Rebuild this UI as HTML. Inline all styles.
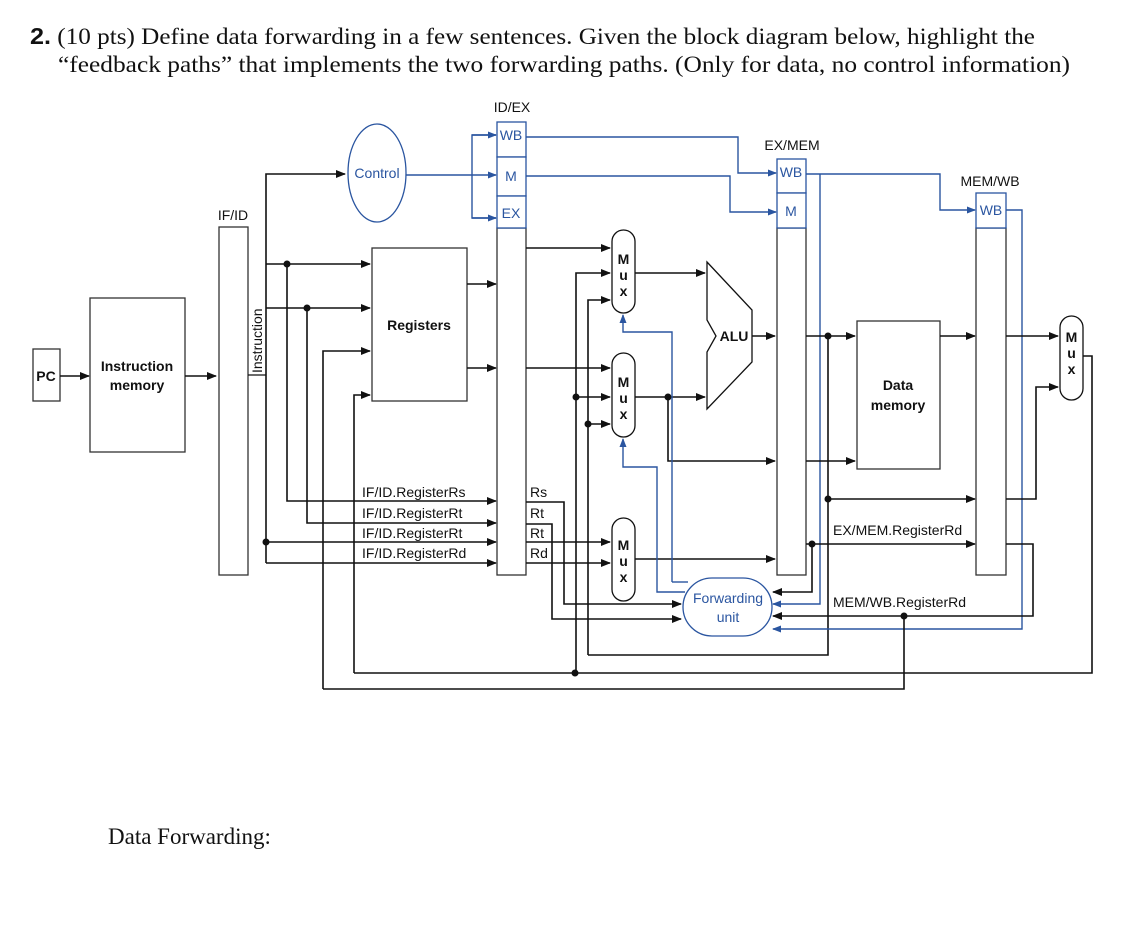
<!DOCTYPE html>
<html><head><meta charset="utf-8"><style>
html,body{margin:0;padding:0;background:#fff;}
svg{display:block;}
.t{font-family:"Liberation Sans",sans-serif;font-size:14px;fill:#111;}
.b{font-weight:bold;}
.bl{fill:#2a55a0;}
.k{stroke:#111;stroke-width:1.6;fill:none;}
.kb{stroke:#2a55a0;stroke-width:1.4;fill:none;}
.box{stroke:#333;stroke-width:1.3;fill:#fff;}
.bbox{stroke:#2a55a0;stroke-width:1.3;fill:#fff;}
</style></head><body>
<svg width="1134" height="938" viewBox="0 0 1134 938" xmlns="http://www.w3.org/2000/svg">
<defs>
<marker id="a" markerWidth="10" markerHeight="8" refX="9" refY="4" orient="auto" markerUnits="userSpaceOnUse"><path d="M0,0 L10,4 L0,8 z" fill="#111"/></marker>
<marker id="ab" markerWidth="9" markerHeight="7" refX="8" refY="3.5" orient="auto" markerUnits="userSpaceOnUse"><path d="M0,0 L9,3.5 L0,7 z" fill="#2a55a0"/></marker>
</defs>

<text x="30" y="44" font-family="Liberation Serif,serif" font-size="23" fill="#111" textLength="1005" lengthAdjust="spacingAndGlyphs"><tspan font-family="Liberation Sans,sans-serif" font-weight="bold">2.</tspan> (10 pts) Define data forwarding in a few sentences. Given the block diagram below, highlight the</text>
<text x="58" y="72" font-family="Liberation Serif,serif" font-size="23" fill="#111" textLength="1012" lengthAdjust="spacingAndGlyphs">“feedback paths” that implements the two forwarding paths. (Only for data, no control information)</text>
<text x="108" y="844" font-family="Liberation Serif,serif" font-size="23" fill="#111">Data Forwarding:</text>

<!-- PC / IM -->
<rect x="33" y="349" width="27" height="52" class="box"/>
<text x="46" y="381" class="t b" text-anchor="middle">PC</text>
<path class="k" d="M60,376 H89" marker-end="url(#a)"/>
<rect x="90" y="298" width="95" height="154" class="box"/>
<text x="137" y="371" class="t b" text-anchor="middle">Instruction</text>
<text x="137" y="390" class="t b" text-anchor="middle">memory</text>
<path class="k" d="M185,376 H216" marker-end="url(#a)"/>

<!-- IF/ID -->
<text x="233" y="220" class="t" text-anchor="middle">IF/ID</text>
<rect x="219" y="227" width="29" height="348" class="box"/>
<path class="k" d="M248,375 H266" style="stroke-width:1.2"/>
<text transform="translate(262,373) rotate(-90)" class="t">Instruction</text>

<path class="k" d="M266,563 V174 H345" marker-end="url(#a)"/>
<path class="k" d="M266,264 H370" marker-end="url(#a)"/>
<path class="k" d="M266,308 H370" marker-end="url(#a)"/>
<path class="k" d="M287,264 V501 H496" marker-end="url(#a)"/>
<path class="k" d="M307,308 V523 H496" marker-end="url(#a)"/>
<path class="k" d="M266,542 H496" marker-end="url(#a)"/>
<path class="k" d="M266,563 H496" marker-end="url(#a)"/>
<circle cx="287" cy="264" r="3.5" fill="#111"/>
<circle cx="307" cy="308" r="3.5" fill="#111"/>
<circle cx="266" cy="542" r="3.5" fill="#111"/>
<text x="362" y="497" class="t">IF/ID.RegisterRs</text>
<text x="362" y="518" class="t">IF/ID.RegisterRt</text>
<text x="362" y="538" class="t">IF/ID.RegisterRt</text>
<text x="362" y="558" class="t">IF/ID.RegisterRd</text>

<!-- Registers -->
<rect x="372" y="248" width="95" height="153" class="box"/>
<text x="419" y="330" class="t b" text-anchor="middle">Registers</text>
<path class="k" d="M467,284 H496" marker-end="url(#a)"/>
<path class="k" d="M467,368 H496" marker-end="url(#a)"/>
<path class="k" d="M323,689 V351 H370" marker-end="url(#a)"/>
<path class="k" d="M354,673 V395 H370" marker-end="url(#a)"/>

<!-- Control -->
<ellipse cx="377" cy="173" rx="29" ry="49" class="bbox"/>
<text x="377" y="178" class="t bl" text-anchor="middle">Control</text>
<path class="kb" d="M406,175 H496" marker-end="url(#ab)"/>
<path class="kb" d="M496,135 H472 V218 H496" />
<path class="kb" d="M472,135 H496" marker-end="url(#ab)"/>
<path class="kb" d="M472,218 H496" marker-end="url(#ab)"/>

<!-- ID/EX -->
<text x="512" y="112" class="t" text-anchor="middle">ID/EX</text>
<rect x="497" y="228" width="29" height="347" class="box"/>
<rect x="497" y="122" width="29" height="35" class="bbox"/>
<rect x="497" y="157" width="29" height="39" class="bbox"/>
<rect x="497" y="196" width="29" height="32" class="bbox"/>
<text x="511" y="140" class="t bl" text-anchor="middle">WB</text>
<text x="511" y="181" class="t bl" text-anchor="middle">M</text>
<text x="511" y="218" class="t bl" text-anchor="middle">EX</text>
<path class="kb" d="M526,137 H738 V173 H776" marker-end="url(#ab)"/>
<path class="kb" d="M526,176 H730 V212 H776" marker-end="url(#ab)"/>

<text x="530" y="497" class="t">Rs</text>
<text x="530" y="518" class="t">Rt</text>
<text x="530" y="538" class="t">Rt</text>
<text x="530" y="558" class="t">Rd</text>
<path class="k" d="M526,502 H564 V604 H681" marker-end="url(#a)"/>
<path class="k" d="M526,524 H552 V619 H681" marker-end="url(#a)"/>
<path class="k" d="M526,542 H610" marker-end="url(#a)"/>
<path class="k" d="M526,563 H610" marker-end="url(#a)"/>

<!-- muxes -->
<path class="k" d="M526,248 H610" marker-end="url(#a)"/>
<path class="k" d="M576,673 V273 H610" marker-end="url(#a)"/>
<path class="k" d="M588,655 V300 H610" marker-end="url(#a)"/>
<path class="k" d="M526,368 H610" marker-end="url(#a)"/>
<path class="k" d="M576,397 H610" marker-end="url(#a)"/>
<path class="k" d="M588,424 H610" marker-end="url(#a)"/>
<circle cx="576" cy="397" r="3.5" fill="#111"/>
<circle cx="588" cy="424" r="3.5" fill="#111"/>
<circle cx="575" cy="673" r="3.5" fill="#111"/>

<rect x="612" y="230" width="23" height="83" rx="11.5" class="box" style="stroke:#111"/>
<rect x="612" y="353" width="23" height="84" rx="11.5" class="box" style="stroke:#111"/>
<rect x="612" y="518" width="23" height="83" rx="11.5" class="box" style="stroke:#111"/>
<rect x="1060" y="316" width="23" height="84" rx="11.5" class="box" style="stroke:#111"/>
<g class="t b" text-anchor="middle" font-size="13">
<text x="623.5" y="264">M</text><text x="623.5" y="280">u</text><text x="623.5" y="296">x</text>
<text x="623.5" y="387">M</text><text x="623.5" y="403">u</text><text x="623.5" y="419">x</text>
<text x="623.5" y="550">M</text><text x="623.5" y="566">u</text><text x="623.5" y="582">x</text>
<text x="1071.5" y="342">M</text><text x="1071.5" y="358">u</text><text x="1071.5" y="374">x</text>
</g>
<path class="k" d="M635,273 H705" marker-end="url(#a)"/>
<path class="k" d="M635,397 H705" marker-end="url(#a)"/>
<circle cx="668" cy="397" r="3.5" fill="#111"/>
<path class="k" d="M668,397 V461 H775" marker-end="url(#a)"/>
<path class="k" d="M635,559 H775" marker-end="url(#a)"/>

<!-- blue mux controls -->
<path class="kb" d="M672,582 V332 H623 V315" marker-end="url(#ab)"/>
<path class="kb" d="M672,582 H688"/>
<path class="kb" d="M685,592 H657 V467 H623 V439" marker-end="url(#ab)"/>

<!-- ALU -->
<polygon points="707,262 752,310 752,362 707,409 707,352 716,336 707,320" class="box" style="stroke:#111"/>
<text x="734" y="341" class="t b" text-anchor="middle">ALU</text>
<path class="k" d="M752,336 H775" marker-end="url(#a)"/>

<!-- EX/MEM -->
<text x="792" y="150" class="t" text-anchor="middle">EX/MEM</text>
<rect x="777" y="228" width="29" height="347" class="box"/>
<rect x="777" y="159" width="29" height="34" class="bbox"/>
<rect x="777" y="193" width="29" height="35" class="bbox"/>
<text x="791" y="177" class="t bl" text-anchor="middle">WB</text>
<text x="791" y="216" class="t bl" text-anchor="middle">M</text>
<path class="kb" d="M806,174 H940 V210 H975" marker-end="url(#ab)"/>
<path class="kb" d="M820,174 V604 H773" marker-end="url(#ab)"/>

<path class="k" d="M806,336 H855" marker-end="url(#a)"/>
<circle cx="828" cy="336" r="3.5" fill="#111"/>
<path class="k" d="M828,336 V655 H588"/>
<circle cx="828" cy="499" r="3.5" fill="#111"/>
<path class="k" d="M828,499 H975" marker-end="url(#a)"/>
<path class="k" d="M806,461 H855" marker-end="url(#a)"/>
<path class="k" d="M806,544 H975" marker-end="url(#a)"/>
<circle cx="812" cy="544" r="3.5" fill="#111"/>
<path class="k" d="M812,544 V592 H773" marker-end="url(#a)"/>
<text x="833" y="535" class="t">EX/MEM.RegisterRd</text>

<!-- Data memory -->
<rect x="857" y="321" width="83" height="148" class="box"/>
<text x="898" y="390" class="t b" text-anchor="middle">Data</text>
<text x="898" y="410" class="t b" text-anchor="middle">memory</text>
<path class="k" d="M940,336 H975" marker-end="url(#a)"/>

<!-- MEM/WB -->
<text x="990" y="186" class="t" text-anchor="middle">MEM/WB</text>
<rect x="976" y="228" width="30" height="347" class="box"/>
<rect x="976" y="193" width="30" height="35" class="bbox"/>
<text x="991" y="215" class="t bl" text-anchor="middle">WB</text>
<path class="kb" d="M1006,210 H1022 V629 H773" marker-end="url(#ab)"/>
<path class="k" d="M1006,336 H1058" marker-end="url(#a)"/>
<path class="k" d="M1006,499 H1036 V387 H1058" marker-end="url(#a)"/>
<path class="k" d="M1006,544 H1033 V616 H773" marker-end="url(#a)"/>
<circle cx="904" cy="616" r="3.5" fill="#111"/>
<path class="k" d="M904,616 V689 H323"/>
<text x="833" y="607" class="t">MEM/WB.RegisterRd</text>

<path class="k" d="M1083,356 H1092 V673 H354"/>

<!-- Forwarding unit -->
<rect x="683" y="578" width="89" height="58" rx="29" class="bbox"/>
<text x="728" y="603" class="t bl" text-anchor="middle">Forwarding</text>
<text x="728" y="622" class="t bl" text-anchor="middle">unit</text>
</svg>
</body></html>
